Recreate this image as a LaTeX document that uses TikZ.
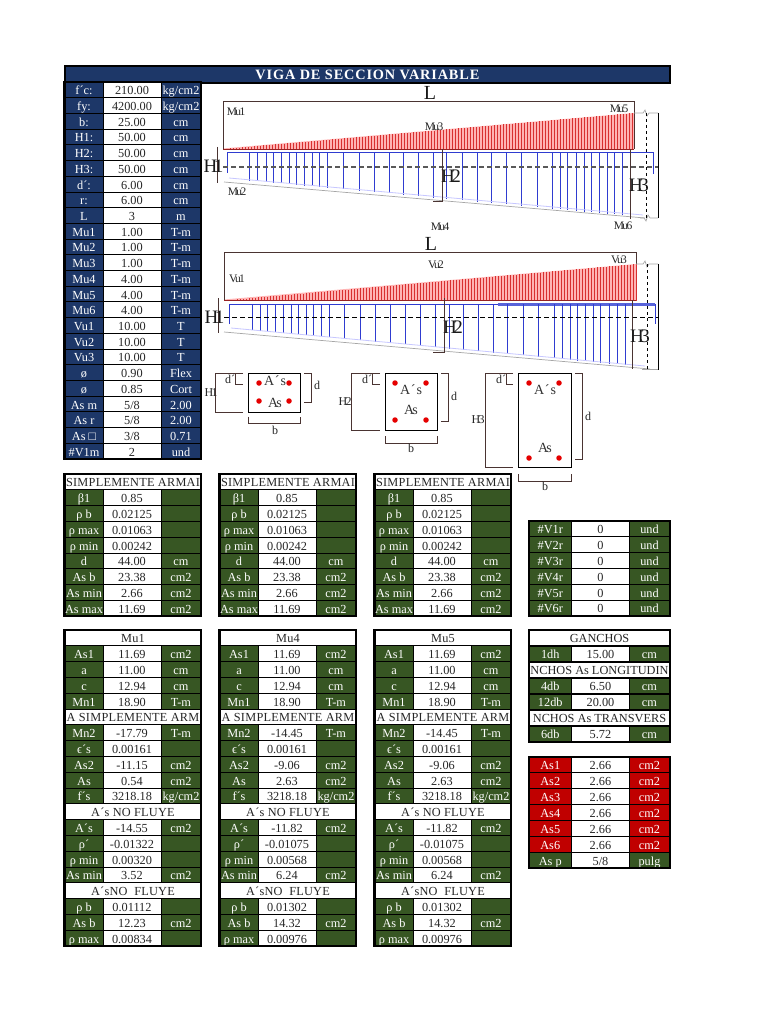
\documentclass[tikz,border=0pt]{standalone}
\usepackage{fontspec}
\usepackage{xcolor}
\setmainfont{Liberation Serif}
\definecolor{navycell}{HTML}{1D3768}
\definecolor{greencell}{HTML}{375623}
\definecolor{redcell}{HTML}{C00000}
\definecolor{dimline}{HTML}{4A3432}
\definecolor{loadfill}{HTML}{FFB4B4}
\definecolor{loadline}{HTML}{D83030}
\definecolor{stirrup}{HTML}{2F3CD0}
\newcommand{\cellfont}{\fontsize{12.3}{13}\selectfont}
\newcommand{\labw}{38}
\newcommand{\datarow}[7]{
  \node[cell, fill=#4, text=white, minimum width=\labw pt, anchor=north west] (#1l) at (#2,#3) {#5};
  \node[cell, fill=white, minimum width=58pt, anchor=north west] (#1v) at (#1l.north east) {#6};
  \node[cell, fill=#4, text=white, minimum width=40pt, anchor=north west] (#1u) at (#1v.north east) {#7};
}
\tikzset{
  cell/.style={draw=black, line width=0.9pt, inner sep=0pt, outer sep=0pt, minimum height=15.8pt, text height=10.4pt, text depth=0.6pt, text=black!85, font=\cellfont},
  bar/.style={cell, fill=white, minimum width=136pt, anchor=north west, font=\cellfont\addfontfeature{LetterSpace=2}},
  widebar/.style={bar, minimum width=141pt, font=\cellfont},
  frame/.style={draw=black, line width=1.8pt},
  dimen/.style={draw=dimline, line width=0.9pt},
  stirrupln/.style={draw=stirrup, line width=1pt},
  hatchln/.style={draw=loadline, line width=0.8pt},
  momtxt/.style={font=\fontsize{11.5}{12}\selectfont\addfontfeature{LetterSpace=-14}, text=black!85},
  bigtxt/.style={font=\fontsize{19}{19}\selectfont\addfontfeature{LetterSpace=-18}, text=black!90},
  lentxt/.style={font=\fontsize{20}{20}\selectfont, text=black!90},
  sectxt/.style={font=\fontsize{12}{12}\selectfont, text=black!85},
  astxt/.style={font=\fontsize{14}{14}\selectfont\addfontfeature{LetterSpace=6}, text=black!80},
  bardot/.style={circle, fill=red!90!black, inner sep=0pt, minimum size=5.5pt}
}
\begin{document}
\begin{tikzpicture}[x=1pt,y=-1pt]
\useasboundingbox (0,0) rectangle (768,1024);
\fill[white] (0,0) rectangle (768,1024);

\node[fill=navycell, draw=black, line width=1.8pt, inner sep=0pt, minimum width=605pt, minimum height=17pt, anchor=north west, text=white, font=\fontsize{14.3}{14}\selectfont\bfseries\addfontfeature{LetterSpace=6}] (title) at (64,65) {VIGA DE SECCION VARIABLE};

\foreach \lab/\val/\unit [count=\r from 0] in {
  {f´c:}/210.00/{kg/cm2}, fy:/4200.00/{kg/cm2}, b:/25.00/cm, H1:/50.00/cm, H2:/50.00/cm, H3:/50.00/cm,
  {d´:}/6.00/cm, r:/6.00/cm, L/3/m, Mu1/1.00/T-m, Mu2/1.00/T-m, Mu3/1.00/T-m, Mu4/4.00/T-m, Mu5/4.00/T-m, Mu6/4.00/T-m,
  Vu1/10.00/T, Vu2/10.00/T, Vu3/10.00/T, ø/0.90/Flex, ø/0.85/Cort, As m/{5/8}/2.00, As r/{5/8}/2.00, As □/{3/8}/0.71, \#V1m/2/und} {
  \pgfmathsetmacro{\y}{82+15.71*\r}
  \datarow{in\r}{65}{\y}{navycell}{\lab}{\val}{\unit}
}
\draw[frame] (64,82) rectangle (201,459);

\foreach \n/\x in {a/65,b/220,c/375} {
  \node[bar] (\n head) at (\x,474) {SIMPLEMENTE ARMAI};
  \foreach \lab/\val/\unit [count=\r from 0] in {
    β1/0.85/{}, ρ b/0.02125/{}, ρ max/0.01063/{}, ρ min/0.00242/{}, d/44.00/cm, As b/23.38/cm2, As min/2.66/cm2, As max/11.69/cm2} {
    \pgfmathsetmacro{\y}{489.8+15.8*\r}
    \datarow{\n\r}{\x}{\y}{greencell}{\lab}{\val}{\unit}
  }
  \draw[frame] (\x-1,474) rectangle (\x+136,616.2);
}

\foreach \n/\x/\head/\mna/\asb/\asc/\asd/\rhop/\rmin/\amin/\rb/\ab/\rmax in {
  d/65/Mu1/-17.79/-11.15/0.54/-14.55/-0.01322/0.00320/3.52/0.01112/12.23/0.00834,
  e/220/Mu4/-14.45/-9.06/2.63/-11.82/-0.01075/0.00568/6.24/0.01302/14.32/0.00976,
  f/375/Mu5/-14.45/-9.06/2.63/-11.82/-0.01075/0.00568/6.24/0.01302/14.32/0.00976} {
  \node[bar] (\n head) at (\x,630) {\head};
  \foreach \lab/\val/\unit [count=\r from 1] in {As1/11.69/cm2, a/11.00/cm, c/12.94/cm, Mn1/18.90/T-m} {
    \pgfmathsetmacro{\y}{630+15.8*\r}
    \datarow{\n a\r}{\x}{\y}{greencell}{\lab}{\val}{\unit}
  }
  \node[bar] (\n bara) at (\x,709) {A SIMPLEMENTE ARM};
  \foreach \lab/\val/\unit [count=\r from 6] in {Mn2/\mna/T-m, {ϵ´s}/0.00161/{}, As2/\asb/cm2, As/\asc/cm2, {f´s}/3218.18/{kg/cm2}} {
    \pgfmathsetmacro{\y}{630+15.8*\r}
    \datarow{\n b\r}{\x}{\y}{greencell}{\lab}{\val}{\unit}
  }
  \node[bar] (\n barb) at (\x,803.8) {A´s NO FLUYE};
  \foreach \lab/\val/\unit [count=\r from 12] in {{A´s}/\asd/cm2, {ρ´}/\rhop/{}, ρ min/\rmin/{}, As min/\amin/cm2} {
    \pgfmathsetmacro{\y}{630+15.8*\r}
    \datarow{\n c\r}{\x}{\y}{greencell}{\lab}{\val}{\unit}
  }
  \node[bar] (\n barc) at (\x,882.8) {A´sNO\ \ FLUYE};
  \foreach \lab/\val/\unit [count=\r from 17] in {ρ b/\rb/{}, As b/\ab/cm2, ρ max/\rmax/{}} {
    \pgfmathsetmacro{\y}{630+15.8*\r}
    \datarow{\n e\r}{\x}{\y}{greencell}{\lab}{\val}{\unit}
  }
  \draw[frame] (\x-1,630) rectangle (\x+136,946);
}

\foreach \val [count=\r from 1] in {0,0,0,0,0,0} {
  \def\labw{42.5}
  \pgfmathsetmacro{\y}{521+15.83*(\r-1)}
  \datarow{vr\r}{529}{\y}{greencell}{\#V\r r}{\val}{und}
}
\draw[frame] (528.5,521) rectangle (670,616);

\def\labw{42.5}
\node[widebar] (ganchos) at (529,630) {GANCHOS};
\datarow{gan1}{529}{646}{greencell}{1dh}{15.00}{cm}
\node[widebar] (ganl) at (529,662) {NCHOS As LONGITUDIN};
\datarow{gan2}{529}{678}{greencell}{4db}{6.50}{cm}
\datarow{gan3}{529}{694}{greencell}{12db}{20.00}{cm}
\node[widebar] (gant) at (529,710) {NCHOS As TRANSVERS};
\datarow{gan4}{529}{726}{greencell}{6db}{5.72}{cm}
\draw[frame] (528.5,630) rectangle (670,742);

\foreach \lab [count=\r from 0] in {As1,As2,As3,As4,As5,As6} {
  \def\labw{42.5}
  \pgfmathsetmacro{\y}{757+15.86*\r}
  \datarow{asr\r}{529}{\y}{redcell}{\lab}{2.66}{cm2}
}
\datarow{asp}{529}{852.2}{greencell}{As p}{5/8}{pulg}
\draw[frame] (528.5,757) rectangle (670,868);

\fill[loadfill] (223,148.5) -- (634,113) -- (634,149) -- (223,149) -- cycle;
\foreach \x in {224,227,...,634} \draw[hatchln] (\x,149) -- (\x,{149-(\x-223)*0.0876});
\draw[dimen] (223,149) -- (223,101) -- (634,101) -- (634,149);
\draw[loadline!70!black, line width=0.8pt] (223,149) -- (634,149);
\node[lentxt] (la) at (430,93) {L};
\draw[stirrupln] (227,173) -- (227,153) -- (653,153) -- (653,174);
\foreach \x in {249,257,266,273,281,289,296,304,312,319,327,343,359,374,389,403,418,433,446,462,477,491,506,521,537,552,560,567,576,584,591,599,607,614,622}
  \draw[stirrupln] (\x,153) -- (\x,{178.5+(\x-227)*0.0925});
\draw[blue!22, line width=0.8pt] (229,178) -- (643,215);
\draw[black!35, line width=0.7pt] (224,182) -- (645,218);
\draw[black!65, line width=1.2pt, dash pattern=on 5pt off 3pt] (223,167) -- (658,167);
\draw[dimen] (217,147) -- (217,183);
\draw[dimen] (442.5,149) -- (442.5,201) -- (433,201);
\draw[dimen] (630,149) -- (630,219);
\draw[black!35, line width=0.7pt] (634,113) -- (643,113) -- (645,110) -- (647,116) -- (649,113) -- (658,113);
\draw[black!35, line width=0.7pt] (640,218) -- (644,218) -- (646,221) -- (648,215) -- (650,218) -- (658,218);
\draw[black, line width=0.8pt, dashed] (646,113) -- (646,220);
\draw[black, line width=0.7pt] (658,113) -- (658,218);
\node[bigtxt] (ha) at (213.5,166) {H1};
\node[bigtxt] (hb) at (451,176) {H2};
\node[bigtxt] (hc) at (639,185) {H3};
\node[momtxt] (mua) at (236,112) {Mu1};
\node[momtxt] (mub) at (237,192) {Mu2};
\node[momtxt] (muc) at (434,127) {Mu3};
\node[momtxt] (mud) at (440,227) {Mu4};
\node[momtxt] (mue) at (619,109) {Mu5};
\node[momtxt] (muf) at (623,226) {Mu6};

\fill[loadfill] (224,299.5) -- (636,264) -- (636,300.5) -- (224,300.5) -- cycle;
\foreach \x in {225,228,...,636} \draw[hatchln] (\x,300.5) -- (\x,{300.5-(\x-224)*0.0886});
\draw[dimen] (224,300) -- (224,252) -- (636,252) -- (636,264);
\draw[loadline!70!black, line width=0.8pt] (224,300.5) -- (636,300.5);
\node[lentxt] (lb) at (431,244) {L};
\draw[stirrupln] (229,324) -- (229,304) -- (655,304) -- (655,324);
\draw[stirrup!80, line width=2.6pt] (498,304.5) -- (655,304.5);
\foreach \x in {252,260,267,275,283,291,298,306,313,321,329,344,360,375,390,405,420,435,449,463,478,493,507,523,538,554,562,570,577,585,593,600,609,617,625}
  \draw[stirrupln] (\x,304) -- (\x,{330+(\x-252)*0.094});
\draw[blue!22, line width=0.8pt] (231,328) -- (645,366);
\draw[black!35, line width=0.7pt] (224,332) -- (650,369);
\draw[black, line width=0.8pt, dash pattern=on 5pt off 3pt] (224,317.5) -- (658,317.5);
\draw[dimen] (218,298) -- (218,333);
\draw[dimen] (444,298) -- (444,352) -- (433,352);
\draw[dimen] (632,300) -- (632,369);
\draw[black!35, line width=0.7pt] (636,264) -- (643,264) -- (645,261) -- (647,267) -- (649,264) -- (658,264);
\draw[black!35, line width=0.7pt] (642,369) -- (658,369);
\draw[black, line width=0.8pt, dashed] (647,264) -- (647,370);
\draw[black, line width=0.7pt] (658,264) -- (658,370);
\node[bigtxt] (hd) at (214.5,317) {H1};
\node[bigtxt] (he) at (453,327) {H2};
\node[bigtxt] (hf) at (640,336) {H3};
\node[momtxt] (vua) at (237,279) {Vu1};
\node[momtxt] (vub) at (436,265) {Vu2};
\node[momtxt] (vuc) at (619,260) {Vu3};

\foreach \n/\xa/\xb/\yb/\ys/\xh/\xd/\yc/\xp/\xq/\ypa/\ypb/\lh/\hx/\dy/\yt/\xm in {
  p/248/300/412/401/215/235/423.5/259/289/381/403/H1/211/385/430/275,
  q/385/437/430/420/351/372/443/395/426/390/410/H2/345/396/448/411,
  r/518/571/467/458/485/506/481/529/559/390/448/H3/478/416/486/545} {
  \node[draw=black, line width=0.8pt, inner sep=0pt, minimum width=\xb pt-\xa pt, minimum height=\yb pt-373pt, anchor=north west] (\n sec) at (\xa,373) {};
  \node[bardot] (\n da) at (\xp,383) {};
  \node[bardot] (\n db) at (\xq,383) {};
  \node[bardot] (\n dc) at (\xp,\ys) {};
  \node[bardot] (\n dd) at (\xq,\ys) {};
  \draw[dimen] (\xa-5,373) -- (\xh,373) -- (\xh,\yb) -- (\xa-5,\yb);
  \draw[dimen] (\xd,373) -- (\xd,384) -- (\xa-5,384);
  \draw[dimen] (\xb+4,373) -- (\xb+11,373) -- (\xb+11,\ys+1) -- (\xb+4,\ys+1);
  \draw[dimen] (\xa,\yc-7) -- (\xa,\yc) -- (\xb,\yc) -- (\xb,\yc-7);
  \node[sectxt] (\n h) at (\hx,\yb/2+186.5) {\addfontfeature{LetterSpace=-14}\lh};
  \node[sectxt] (\n dp) at (\xd-5,379) {d´};
  \node[sectxt] (\n dt) at (\xb+17,\dy) {d};
  \node[sectxt] (\n b) at (\xm,\yt) {b};
  \node[astxt] (\n ac) at (\xm,\ypa) {A´s};
  \node[astxt] (\n as) at (\xm,\ypb) {\addfontfeature{LetterSpace=-14}As};
}
\end{tikzpicture}
\end{document}
